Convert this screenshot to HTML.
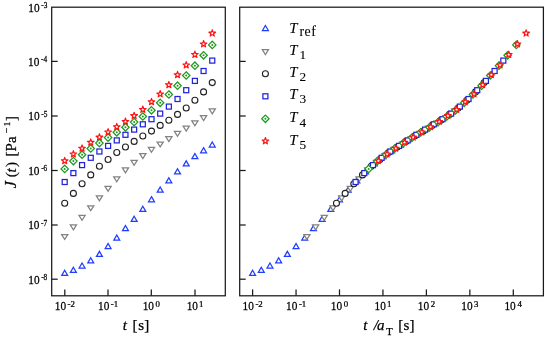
<!DOCTYPE html>
<html><head><meta charset="utf-8"><style>
html,body{margin:0;padding:0;background:#fff;}
body{width:545px;height:338px;overflow:hidden;}
svg{display:block;}
text{font-family:"Liberation Serif","Times New Roman",serif;fill:#000;stroke:#000;stroke-width:0.25px;}
.i{font-style:italic;}
.l{stroke-width:0.08px;}
</style></head><body>
<svg width="545" height="338" viewBox="0 0 545 338">
<rect x="51.7" y="7.2" width="173.6" height="288.6" fill="none" stroke="#1a1a1a" stroke-width="1.25"/>
<rect x="239.7" y="7.2" width="303.7" height="288.6" fill="none" stroke="#1a1a1a" stroke-width="1.25"/>
<line x1="51.7" y1="61.4" x2="57.7" y2="61.4" stroke="#1a1a1a" stroke-width="1.25"/>
<line x1="51.7" y1="116.0" x2="57.7" y2="116.0" stroke="#1a1a1a" stroke-width="1.25"/>
<line x1="51.7" y1="170.5" x2="57.7" y2="170.5" stroke="#1a1a1a" stroke-width="1.25"/>
<line x1="51.7" y1="225.0" x2="57.7" y2="225.0" stroke="#1a1a1a" stroke-width="1.25"/>
<line x1="51.7" y1="279.2" x2="57.7" y2="279.2" stroke="#1a1a1a" stroke-width="1.25"/>
<line x1="239.7" y1="61.4" x2="245.7" y2="61.4" stroke="#1a1a1a" stroke-width="1.25"/>
<line x1="239.7" y1="116.0" x2="245.7" y2="116.0" stroke="#1a1a1a" stroke-width="1.25"/>
<line x1="239.7" y1="170.5" x2="245.7" y2="170.5" stroke="#1a1a1a" stroke-width="1.25"/>
<line x1="239.7" y1="225.0" x2="245.7" y2="225.0" stroke="#1a1a1a" stroke-width="1.25"/>
<line x1="239.7" y1="279.2" x2="245.7" y2="279.2" stroke="#1a1a1a" stroke-width="1.25"/>
<line x1="64.8" y1="295.8" x2="64.8" y2="289.40000000000003" stroke="#1a1a1a" stroke-width="1.25"/>
<line x1="108.0" y1="295.8" x2="108.0" y2="289.40000000000003" stroke="#1a1a1a" stroke-width="1.25"/>
<line x1="151.3" y1="295.8" x2="151.3" y2="289.40000000000003" stroke="#1a1a1a" stroke-width="1.25"/>
<line x1="195.0" y1="295.8" x2="195.0" y2="289.40000000000003" stroke="#1a1a1a" stroke-width="1.25"/>
<line x1="252.60" y1="295.8" x2="252.60" y2="289.40000000000003" stroke="#1a1a1a" stroke-width="1.25"/>
<line x1="296.05" y1="295.8" x2="296.05" y2="289.40000000000003" stroke="#1a1a1a" stroke-width="1.25"/>
<line x1="339.50" y1="295.8" x2="339.50" y2="289.40000000000003" stroke="#1a1a1a" stroke-width="1.25"/>
<line x1="382.95" y1="295.8" x2="382.95" y2="289.40000000000003" stroke="#1a1a1a" stroke-width="1.25"/>
<line x1="426.40" y1="295.8" x2="426.40" y2="289.40000000000003" stroke="#1a1a1a" stroke-width="1.25"/>
<line x1="469.85" y1="295.8" x2="469.85" y2="289.40000000000003" stroke="#1a1a1a" stroke-width="1.25"/>
<line x1="513.30" y1="295.8" x2="513.30" y2="289.40000000000003" stroke="#1a1a1a" stroke-width="1.25"/>
<text transform="translate(28.29,11.55) scale(0.87,1)" font-size="13.0">10</text><text transform="translate(41.20,8.15) scale(0.87,1)" font-size="8.4">-3</text>
<text transform="translate(28.12,65.75) scale(0.87,1)" font-size="13.0">10</text><text transform="translate(41.03,62.35) scale(0.87,1)" font-size="8.4">-4</text>
<text transform="translate(28.29,120.35) scale(0.87,1)" font-size="13.0">10</text><text transform="translate(41.20,116.95) scale(0.87,1)" font-size="8.4">-5</text>
<text transform="translate(28.22,174.85) scale(0.87,1)" font-size="13.0">10</text><text transform="translate(41.13,171.45) scale(0.87,1)" font-size="8.4">-6</text>
<text transform="translate(28.21,229.35) scale(0.87,1)" font-size="13.0">10</text><text transform="translate(41.12,225.95) scale(0.87,1)" font-size="8.4">-7</text>
<text transform="translate(28.28,283.55) scale(0.87,1)" font-size="13.0">10</text><text transform="translate(41.19,280.15) scale(0.87,1)" font-size="8.4">-8</text>
<text transform="translate(54.75,310.40) scale(0.87,1)" font-size="13.0">10</text><text transform="translate(67.61,306.70) scale(1.1,1)" font-size="8.0">-2</text>
<text transform="translate(97.98,310.40) scale(0.87,1)" font-size="13.0">10</text><text transform="translate(110.83,306.70) scale(1.1,1)" font-size="8.0">-1</text>
<text transform="translate(142.65,310.40) scale(0.87,1)" font-size="13.0">10</text><text transform="translate(155.49,306.70) scale(1.1,1)" font-size="8.0">0</text>
<text transform="translate(186.66,310.40) scale(0.87,1)" font-size="13.0">10</text><text transform="translate(199.07,306.70) scale(1.1,1)" font-size="8.0">1</text>
<text transform="translate(242.55,310.40) scale(0.87,1)" font-size="13.0">10</text><text transform="translate(255.41,306.70) scale(1.1,1)" font-size="8.0">-2</text>
<text transform="translate(286.03,310.40) scale(0.87,1)" font-size="13.0">10</text><text transform="translate(298.88,306.70) scale(1.1,1)" font-size="8.0">-1</text>
<text transform="translate(330.85,310.40) scale(0.87,1)" font-size="13.0">10</text><text transform="translate(343.69,306.70) scale(1.1,1)" font-size="8.0">0</text>
<text transform="translate(374.61,310.40) scale(0.87,1)" font-size="13.0">10</text><text transform="translate(387.02,306.70) scale(1.1,1)" font-size="8.0">1</text>
<text transform="translate(417.85,310.40) scale(0.87,1)" font-size="13.0">10</text><text transform="translate(430.64,306.70) scale(1.1,1)" font-size="8.0">2</text>
<text transform="translate(461.25,310.40) scale(0.87,1)" font-size="13.0">10</text><text transform="translate(474.00,306.70) scale(1.1,1)" font-size="8.0">3</text>
<text transform="translate(504.47,310.40) scale(0.87,1)" font-size="13.0">10</text><text transform="translate(517.48,306.70) scale(1.1,1)" font-size="8.0">4</text>
<text x="122.64" y="329.70" font-size="15" class="i">t</text>
<text x="132.59" y="329.70" font-size="15">[</text>
<text x="138.28" y="329.70" font-size="15">s</text>
<text x="144.16" y="329.70" font-size="15">]</text>
<text x="363.34" y="329.70" font-size="15" class="i">t</text>
<text x="373.69" y="329.70" font-size="15" class="i">/</text>
<text x="377.05" y="329.70" font-size="15" class="i">a</text>
<text x="386.31" y="335.00" font-size="10.5">T</text>
<text x="398.19" y="329.70" font-size="15">[</text>
<text x="403.58" y="329.70" font-size="15">s</text>
<text x="409.56" y="329.70" font-size="15">]</text>
<g transform="translate(16,0) rotate(-90)"><text x="-188.14" y="0" font-size="16" class="i">J</text><text x="-177.26" y="0" font-size="15">(</text><text x="-172.56" y="0" font-size="15" class="i">t</text><text x="-167.08" y="0" font-size="15">)</text><text x="-156.41" y="0" font-size="15">[</text><text x="-151.43" y="0" font-size="15">Pa</text><text x="-133.20" y="-6.0" font-size="10">−</text><text x="-126.29" y="-6.0" font-size="9">1</text><text x="-121.04" y="0" font-size="15">]</text></g>
<path d="M265.40,25.45L268.35,30.55L262.45,30.55Z" fill="#fff" stroke="#1f3dff" stroke-width="1.25"/>
<text x="289.23" y="32.50" font-size="14.8" class="i l">T</text>
<text class="l" x="299.5" y="35.80" font-size="13.8" letter-spacing="0.5">ref</text>
<path d="M265.40,54.55L268.50,49.65L262.30,49.65Z" fill="#fff" stroke="#828282" stroke-width="1.25"/>
<text x="289.23" y="54.50" font-size="14.8" class="i l">T</text>
<text class="l" x="299.5" y="58.70" font-size="13.3" letter-spacing="0">1</text>
<circle cx="265.40" cy="73.75" r="3.0" fill="#fff" stroke="#202020" stroke-width="1.1"/>
<text x="289.23" y="77.00" font-size="14.8" class="i l">T</text>
<text class="l" x="299.5" y="81.20" font-size="13.3" letter-spacing="0">2</text>
<rect x="262.90" y="93.80" width="5.0" height="5.0" fill="#fff" stroke="#2222dd" stroke-width="1.25"/>
<text x="289.23" y="99.20" font-size="14.8" class="i l">T</text>
<text class="l" x="299.5" y="103.40" font-size="13.3" letter-spacing="0">3</text>
<path d="M265.40,115.10L269.10,118.80L265.40,122.50L261.70,118.80Z" fill="#fff" stroke="#1e9a1e" stroke-width="1.25"/><circle cx="265.40" cy="118.80" r="1.0" fill="#1e9a1e"/>
<text x="289.23" y="122.30" font-size="14.8" class="i l">T</text>
<text class="l" x="299.5" y="126.50" font-size="13.3" letter-spacing="0">4</text>
<polygon points="265.40,137.55 266.20,139.95 268.73,139.97 266.70,141.47 267.46,143.88 265.40,142.41 263.34,143.88 264.10,141.47 262.07,139.97 264.60,139.95" fill="#fff" stroke="#ff1010" stroke-width="1.15" stroke-linejoin="round"/>
<text x="289.23" y="144.80" font-size="14.8" class="i l">T</text>
<text class="l" x="299.5" y="149.00" font-size="13.3" letter-spacing="0">5</text>
<path d="M64.70,270.25L67.65,275.35L61.75,275.35Z" fill="#fff" stroke="#1f3dff" stroke-width="1.25"/>
<path d="M73.38,267.25L76.33,272.35L70.43,272.35Z" fill="#fff" stroke="#1f3dff" stroke-width="1.25"/>
<path d="M82.06,262.95L85.01,268.05L79.11,268.05Z" fill="#fff" stroke="#1f3dff" stroke-width="1.25"/>
<path d="M90.74,257.75L93.69,262.85L87.79,262.85Z" fill="#fff" stroke="#1f3dff" stroke-width="1.25"/>
<path d="M99.42,251.35L102.37,256.45L96.47,256.45Z" fill="#fff" stroke="#1f3dff" stroke-width="1.25"/>
<path d="M108.10,243.55L111.05,248.65L105.15,248.65Z" fill="#fff" stroke="#1f3dff" stroke-width="1.25"/>
<path d="M116.78,235.05L119.73,240.15L113.83,240.15Z" fill="#fff" stroke="#1f3dff" stroke-width="1.25"/>
<path d="M125.46,225.55L128.41,230.65L122.51,230.65Z" fill="#fff" stroke="#1f3dff" stroke-width="1.25"/>
<path d="M134.14,216.25L137.09,221.35L131.19,221.35Z" fill="#fff" stroke="#1f3dff" stroke-width="1.25"/>
<path d="M142.82,206.25L145.77,211.35L139.87,211.35Z" fill="#fff" stroke="#1f3dff" stroke-width="1.25"/>
<path d="M151.50,196.65L154.45,201.75L148.55,201.75Z" fill="#fff" stroke="#1f3dff" stroke-width="1.25"/>
<path d="M160.18,187.05L163.13,192.15L157.23,192.15Z" fill="#fff" stroke="#1f3dff" stroke-width="1.25"/>
<path d="M168.86,177.75L171.81,182.85L165.91,182.85Z" fill="#fff" stroke="#1f3dff" stroke-width="1.25"/>
<path d="M177.54,168.75L180.49,173.85L174.59,173.85Z" fill="#fff" stroke="#1f3dff" stroke-width="1.25"/>
<path d="M186.22,160.85L189.17,165.95L183.27,165.95Z" fill="#fff" stroke="#1f3dff" stroke-width="1.25"/>
<path d="M194.90,153.55L197.85,158.65L191.95,158.65Z" fill="#fff" stroke="#1f3dff" stroke-width="1.25"/>
<path d="M203.58,147.65L206.53,152.75L200.63,152.75Z" fill="#fff" stroke="#1f3dff" stroke-width="1.25"/>
<path d="M212.26,141.95L215.21,147.05L209.31,147.05Z" fill="#fff" stroke="#1f3dff" stroke-width="1.25"/>
<path d="M64.70,239.45L67.80,234.55L61.60,234.55Z" fill="#fff" stroke="#828282" stroke-width="1.25"/>
<path d="M73.38,229.85L76.48,224.95L70.28,224.95Z" fill="#fff" stroke="#828282" stroke-width="1.25"/>
<path d="M82.06,220.25L85.16,215.35L78.96,215.35Z" fill="#fff" stroke="#828282" stroke-width="1.25"/>
<path d="M90.74,210.65L93.84,205.75L87.64,205.75Z" fill="#fff" stroke="#828282" stroke-width="1.25"/>
<path d="M99.42,200.85L102.52,195.95L96.32,195.95Z" fill="#fff" stroke="#828282" stroke-width="1.25"/>
<path d="M108.10,191.25L111.20,186.35L105.00,186.35Z" fill="#fff" stroke="#828282" stroke-width="1.25"/>
<path d="M116.78,181.75L119.88,176.85L113.68,176.85Z" fill="#fff" stroke="#828282" stroke-width="1.25"/>
<path d="M125.46,172.85L128.56,167.95L122.36,167.95Z" fill="#fff" stroke="#828282" stroke-width="1.25"/>
<path d="M134.14,165.25L137.24,160.35L131.04,160.35Z" fill="#fff" stroke="#828282" stroke-width="1.25"/>
<path d="M142.82,158.55L145.92,153.65L139.72,153.65Z" fill="#fff" stroke="#828282" stroke-width="1.25"/>
<path d="M151.50,152.25L154.60,147.35L148.40,147.35Z" fill="#fff" stroke="#828282" stroke-width="1.25"/>
<path d="M160.18,146.95L163.28,142.05L157.08,142.05Z" fill="#fff" stroke="#828282" stroke-width="1.25"/>
<path d="M168.86,141.55L171.96,136.65L165.76,136.65Z" fill="#fff" stroke="#828282" stroke-width="1.25"/>
<path d="M177.54,136.25L180.64,131.35L174.44,131.35Z" fill="#fff" stroke="#828282" stroke-width="1.25"/>
<path d="M186.22,131.05L189.32,126.15L183.12,126.15Z" fill="#fff" stroke="#828282" stroke-width="1.25"/>
<path d="M194.90,125.75L198.00,120.85L191.80,120.85Z" fill="#fff" stroke="#828282" stroke-width="1.25"/>
<path d="M203.58,120.55L206.68,115.65L200.48,115.65Z" fill="#fff" stroke="#828282" stroke-width="1.25"/>
<path d="M212.26,113.85L215.36,108.95L209.16,108.95Z" fill="#fff" stroke="#828282" stroke-width="1.25"/>
<circle cx="64.70" cy="203.20" r="3.0" fill="#fff" stroke="#202020" stroke-width="1.1"/>
<circle cx="73.38" cy="193.40" r="3.0" fill="#fff" stroke="#202020" stroke-width="1.1"/>
<circle cx="82.06" cy="183.80" r="3.0" fill="#fff" stroke="#202020" stroke-width="1.1"/>
<circle cx="90.74" cy="174.90" r="3.0" fill="#fff" stroke="#202020" stroke-width="1.1"/>
<circle cx="99.42" cy="166.30" r="3.0" fill="#fff" stroke="#202020" stroke-width="1.1"/>
<circle cx="108.10" cy="159.50" r="3.0" fill="#fff" stroke="#202020" stroke-width="1.1"/>
<circle cx="116.78" cy="152.50" r="3.0" fill="#fff" stroke="#202020" stroke-width="1.1"/>
<circle cx="125.46" cy="147.00" r="3.0" fill="#fff" stroke="#202020" stroke-width="1.1"/>
<circle cx="134.14" cy="141.40" r="3.0" fill="#fff" stroke="#202020" stroke-width="1.1"/>
<circle cx="142.82" cy="136.00" r="3.0" fill="#fff" stroke="#202020" stroke-width="1.1"/>
<circle cx="151.50" cy="131.10" r="3.0" fill="#fff" stroke="#202020" stroke-width="1.1"/>
<circle cx="160.18" cy="125.40" r="3.0" fill="#fff" stroke="#202020" stroke-width="1.1"/>
<circle cx="168.86" cy="120.20" r="3.0" fill="#fff" stroke="#202020" stroke-width="1.1"/>
<circle cx="177.54" cy="114.40" r="3.0" fill="#fff" stroke="#202020" stroke-width="1.1"/>
<circle cx="186.22" cy="108.00" r="3.0" fill="#fff" stroke="#202020" stroke-width="1.1"/>
<circle cx="194.90" cy="100.30" r="3.0" fill="#fff" stroke="#202020" stroke-width="1.1"/>
<circle cx="203.58" cy="91.90" r="3.0" fill="#fff" stroke="#202020" stroke-width="1.1"/>
<circle cx="212.26" cy="82.60" r="3.0" fill="#fff" stroke="#202020" stroke-width="1.1"/>
<rect x="62.20" y="179.50" width="5.0" height="5.0" fill="#fff" stroke="#2222dd" stroke-width="1.25"/>
<rect x="70.88" y="170.60" width="5.0" height="5.0" fill="#fff" stroke="#2222dd" stroke-width="1.25"/>
<rect x="79.56" y="162.60" width="5.0" height="5.0" fill="#fff" stroke="#2222dd" stroke-width="1.25"/>
<rect x="88.24" y="155.30" width="5.0" height="5.0" fill="#fff" stroke="#2222dd" stroke-width="1.25"/>
<rect x="96.92" y="149.00" width="5.0" height="5.0" fill="#fff" stroke="#2222dd" stroke-width="1.25"/>
<rect x="105.60" y="143.40" width="5.0" height="5.0" fill="#fff" stroke="#2222dd" stroke-width="1.25"/>
<rect x="114.28" y="137.90" width="5.0" height="5.0" fill="#fff" stroke="#2222dd" stroke-width="1.25"/>
<rect x="122.96" y="132.30" width="5.0" height="5.0" fill="#fff" stroke="#2222dd" stroke-width="1.25"/>
<rect x="131.64" y="127.10" width="5.0" height="5.0" fill="#fff" stroke="#2222dd" stroke-width="1.25"/>
<rect x="140.32" y="121.80" width="5.0" height="5.0" fill="#fff" stroke="#2222dd" stroke-width="1.25"/>
<rect x="149.00" y="116.70" width="5.0" height="5.0" fill="#fff" stroke="#2222dd" stroke-width="1.25"/>
<rect x="157.68" y="111.10" width="5.0" height="5.0" fill="#fff" stroke="#2222dd" stroke-width="1.25"/>
<rect x="166.36" y="104.10" width="5.0" height="5.0" fill="#fff" stroke="#2222dd" stroke-width="1.25"/>
<rect x="175.04" y="96.50" width="5.0" height="5.0" fill="#fff" stroke="#2222dd" stroke-width="1.25"/>
<rect x="183.72" y="87.70" width="5.0" height="5.0" fill="#fff" stroke="#2222dd" stroke-width="1.25"/>
<rect x="192.40" y="78.40" width="5.0" height="5.0" fill="#fff" stroke="#2222dd" stroke-width="1.25"/>
<rect x="201.08" y="68.50" width="5.0" height="5.0" fill="#fff" stroke="#2222dd" stroke-width="1.25"/>
<rect x="209.76" y="58.10" width="5.0" height="5.0" fill="#fff" stroke="#2222dd" stroke-width="1.25"/>
<path d="M64.70,165.20L68.40,168.90L64.70,172.60L61.00,168.90Z" fill="#fff" stroke="#1e9a1e" stroke-width="1.25"/><circle cx="64.70" cy="168.90" r="1.0" fill="#1e9a1e"/>
<path d="M73.38,157.40L77.08,161.10L73.38,164.80L69.68,161.10Z" fill="#fff" stroke="#1e9a1e" stroke-width="1.25"/><circle cx="73.38" cy="161.10" r="1.0" fill="#1e9a1e"/>
<path d="M82.06,151.00L85.76,154.70L82.06,158.40L78.36,154.70Z" fill="#fff" stroke="#1e9a1e" stroke-width="1.25"/><circle cx="82.06" cy="154.70" r="1.0" fill="#1e9a1e"/>
<path d="M90.74,144.80L94.44,148.50L90.74,152.20L87.04,148.50Z" fill="#fff" stroke="#1e9a1e" stroke-width="1.25"/><circle cx="90.74" cy="148.50" r="1.0" fill="#1e9a1e"/>
<path d="M99.42,139.40L103.12,143.10L99.42,146.80L95.72,143.10Z" fill="#fff" stroke="#1e9a1e" stroke-width="1.25"/><circle cx="99.42" cy="143.10" r="1.0" fill="#1e9a1e"/>
<path d="M108.10,133.90L111.80,137.60L108.10,141.30L104.40,137.60Z" fill="#fff" stroke="#1e9a1e" stroke-width="1.25"/><circle cx="108.10" cy="137.60" r="1.0" fill="#1e9a1e"/>
<path d="M116.78,128.60L120.48,132.30L116.78,136.00L113.08,132.30Z" fill="#fff" stroke="#1e9a1e" stroke-width="1.25"/><circle cx="116.78" cy="132.30" r="1.0" fill="#1e9a1e"/>
<path d="M125.46,123.60L129.16,127.30L125.46,131.00L121.76,127.30Z" fill="#fff" stroke="#1e9a1e" stroke-width="1.25"/><circle cx="125.46" cy="127.30" r="1.0" fill="#1e9a1e"/>
<path d="M134.14,118.40L137.84,122.10L134.14,125.80L130.44,122.10Z" fill="#fff" stroke="#1e9a1e" stroke-width="1.25"/><circle cx="134.14" cy="122.10" r="1.0" fill="#1e9a1e"/>
<path d="M142.82,112.80L146.52,116.50L142.82,120.20L139.12,116.50Z" fill="#fff" stroke="#1e9a1e" stroke-width="1.25"/><circle cx="142.82" cy="116.50" r="1.0" fill="#1e9a1e"/>
<path d="M151.50,106.60L155.20,110.30L151.50,114.00L147.80,110.30Z" fill="#fff" stroke="#1e9a1e" stroke-width="1.25"/><circle cx="151.50" cy="110.30" r="1.0" fill="#1e9a1e"/>
<path d="M160.18,99.10L163.88,102.80L160.18,106.50L156.48,102.80Z" fill="#fff" stroke="#1e9a1e" stroke-width="1.25"/><circle cx="160.18" cy="102.80" r="1.0" fill="#1e9a1e"/>
<path d="M168.86,90.80L172.56,94.50L168.86,98.20L165.16,94.50Z" fill="#fff" stroke="#1e9a1e" stroke-width="1.25"/><circle cx="168.86" cy="94.50" r="1.0" fill="#1e9a1e"/>
<path d="M177.54,82.00L181.24,85.70L177.54,89.40L173.84,85.70Z" fill="#fff" stroke="#1e9a1e" stroke-width="1.25"/><circle cx="177.54" cy="85.70" r="1.0" fill="#1e9a1e"/>
<path d="M186.22,71.80L189.92,75.50L186.22,79.20L182.52,75.50Z" fill="#fff" stroke="#1e9a1e" stroke-width="1.25"/><circle cx="186.22" cy="75.50" r="1.0" fill="#1e9a1e"/>
<path d="M194.90,62.00L198.60,65.70L194.90,69.40L191.20,65.70Z" fill="#fff" stroke="#1e9a1e" stroke-width="1.25"/><circle cx="194.90" cy="65.70" r="1.0" fill="#1e9a1e"/>
<path d="M203.58,51.60L207.28,55.30L203.58,59.00L199.88,55.30Z" fill="#fff" stroke="#1e9a1e" stroke-width="1.25"/><circle cx="203.58" cy="55.30" r="1.0" fill="#1e9a1e"/>
<path d="M212.26,41.20L215.96,44.90L212.26,48.60L208.56,44.90Z" fill="#fff" stroke="#1e9a1e" stroke-width="1.25"/><circle cx="212.26" cy="44.90" r="1.0" fill="#1e9a1e"/>
<polygon points="64.70,157.35 65.50,159.75 68.03,159.77 66.00,161.27 66.76,163.68 64.70,162.22 62.64,163.68 63.40,161.27 61.37,159.77 63.90,159.75" fill="#fff" stroke="#ff1010" stroke-width="1.15" stroke-linejoin="round"/>
<polygon points="73.38,150.65 74.18,153.05 76.71,153.07 74.68,154.57 75.44,156.98 73.38,155.52 71.32,156.98 72.08,154.57 70.05,153.07 72.58,153.05" fill="#fff" stroke="#ff1010" stroke-width="1.15" stroke-linejoin="round"/>
<polygon points="82.06,144.85 82.86,147.25 85.39,147.27 83.36,148.77 84.12,151.18 82.06,149.72 80.00,151.18 80.76,148.77 78.73,147.27 81.26,147.25" fill="#fff" stroke="#ff1010" stroke-width="1.15" stroke-linejoin="round"/>
<polygon points="90.74,138.95 91.54,141.35 94.07,141.37 92.04,142.87 92.80,145.28 90.74,143.81 88.68,145.28 89.44,142.87 87.41,141.37 89.94,141.35" fill="#fff" stroke="#ff1010" stroke-width="1.15" stroke-linejoin="round"/>
<polygon points="99.42,133.75 100.22,136.15 102.75,136.17 100.72,137.67 101.48,140.08 99.42,138.62 97.36,140.08 98.12,137.67 96.09,136.17 98.62,136.15" fill="#fff" stroke="#ff1010" stroke-width="1.15" stroke-linejoin="round"/>
<polygon points="108.10,128.65 108.90,131.05 111.43,131.07 109.40,132.57 110.16,134.98 108.10,133.52 106.04,134.98 106.80,132.57 104.77,131.07 107.30,131.05" fill="#fff" stroke="#ff1010" stroke-width="1.15" stroke-linejoin="round"/>
<polygon points="116.78,123.35 117.58,125.75 120.11,125.77 118.08,127.27 118.84,129.68 116.78,128.22 114.72,129.68 115.48,127.27 113.45,125.77 115.98,125.75" fill="#fff" stroke="#ff1010" stroke-width="1.15" stroke-linejoin="round"/>
<polygon points="125.46,118.05 126.26,120.45 128.79,120.47 126.76,121.97 127.52,124.38 125.46,122.91 123.40,124.38 124.16,121.97 122.13,120.47 124.66,120.45" fill="#fff" stroke="#ff1010" stroke-width="1.15" stroke-linejoin="round"/>
<polygon points="134.14,112.25 134.94,114.65 137.47,114.67 135.44,116.17 136.20,118.58 134.14,117.11 132.08,118.58 132.84,116.17 130.81,114.67 133.34,114.65" fill="#fff" stroke="#ff1010" stroke-width="1.15" stroke-linejoin="round"/>
<polygon points="142.82,106.05 143.62,108.45 146.15,108.47 144.12,109.97 144.88,112.38 142.82,110.91 140.76,112.38 141.52,109.97 139.49,108.47 142.02,108.45" fill="#fff" stroke="#ff1010" stroke-width="1.15" stroke-linejoin="round"/>
<polygon points="151.50,98.35 152.30,100.75 154.83,100.77 152.80,102.27 153.56,104.68 151.50,103.21 149.44,104.68 150.20,102.27 148.17,100.77 150.70,100.75" fill="#fff" stroke="#ff1010" stroke-width="1.15" stroke-linejoin="round"/>
<polygon points="160.18,90.55 160.98,92.95 163.51,92.97 161.48,94.47 162.24,96.88 160.18,95.41 158.12,96.88 158.88,94.47 156.85,92.97 159.38,92.95" fill="#fff" stroke="#ff1010" stroke-width="1.15" stroke-linejoin="round"/>
<polygon points="168.86,81.45 169.66,83.85 172.19,83.87 170.16,85.37 170.92,87.78 168.86,86.31 166.80,87.78 167.56,85.37 165.53,83.87 168.06,83.85" fill="#fff" stroke="#ff1010" stroke-width="1.15" stroke-linejoin="round"/>
<polygon points="177.54,71.35 178.34,73.75 180.87,73.77 178.84,75.27 179.60,77.68 177.54,76.21 175.48,77.68 176.24,75.27 174.21,73.77 176.74,73.75" fill="#fff" stroke="#ff1010" stroke-width="1.15" stroke-linejoin="round"/>
<polygon points="186.22,61.65 187.02,64.05 189.55,64.07 187.52,65.57 188.28,67.98 186.22,66.51 184.16,67.98 184.92,65.57 182.89,64.07 185.42,64.05" fill="#fff" stroke="#ff1010" stroke-width="1.15" stroke-linejoin="round"/>
<polygon points="194.90,51.15 195.70,53.55 198.23,53.57 196.20,55.07 196.96,57.48 194.90,56.02 192.84,57.48 193.60,55.07 191.57,53.57 194.10,53.55" fill="#fff" stroke="#ff1010" stroke-width="1.15" stroke-linejoin="round"/>
<polygon points="203.58,40.55 204.38,42.95 206.91,42.97 204.88,44.47 205.64,46.88 203.58,45.42 201.52,46.88 202.28,44.47 200.25,42.97 202.78,42.95" fill="#fff" stroke="#ff1010" stroke-width="1.15" stroke-linejoin="round"/>
<polygon points="212.26,29.75 213.06,32.15 215.59,32.17 213.56,33.67 214.32,36.08 212.26,34.62 210.20,36.08 210.96,33.67 208.93,32.17 211.46,32.15" fill="#fff" stroke="#ff1010" stroke-width="1.15" stroke-linejoin="round"/>
<path d="M252.60,270.25L255.55,275.35L249.65,275.35Z" fill="#fff" stroke="#1f3dff" stroke-width="1.25"/>
<path d="M261.29,267.25L264.24,272.35L258.34,272.35Z" fill="#fff" stroke="#1f3dff" stroke-width="1.25"/>
<path d="M269.98,262.95L272.93,268.05L267.03,268.05Z" fill="#fff" stroke="#1f3dff" stroke-width="1.25"/>
<path d="M278.67,257.75L281.62,262.85L275.72,262.85Z" fill="#fff" stroke="#1f3dff" stroke-width="1.25"/>
<path d="M287.36,251.35L290.31,256.45L284.41,256.45Z" fill="#fff" stroke="#1f3dff" stroke-width="1.25"/>
<path d="M296.05,243.55L299.00,248.65L293.10,248.65Z" fill="#fff" stroke="#1f3dff" stroke-width="1.25"/>
<path d="M304.74,235.05L307.69,240.15L301.79,240.15Z" fill="#fff" stroke="#1f3dff" stroke-width="1.25"/>
<path d="M313.43,225.55L316.38,230.65L310.48,230.65Z" fill="#fff" stroke="#1f3dff" stroke-width="1.25"/>
<path d="M322.12,216.25L325.07,221.35L319.17,221.35Z" fill="#fff" stroke="#1f3dff" stroke-width="1.25"/>
<path d="M330.81,206.25L333.76,211.35L327.86,211.35Z" fill="#fff" stroke="#1f3dff" stroke-width="1.25"/>
<path d="M339.50,196.65L342.45,201.75L336.55,201.75Z" fill="#fff" stroke="#1f3dff" stroke-width="1.25"/>
<path d="M348.19,187.05L351.14,192.15L345.24,192.15Z" fill="#fff" stroke="#1f3dff" stroke-width="1.25"/>
<path d="M356.88,177.75L359.83,182.85L353.93,182.85Z" fill="#fff" stroke="#1f3dff" stroke-width="1.25"/>
<path d="M365.57,168.75L368.52,173.85L362.62,173.85Z" fill="#fff" stroke="#1f3dff" stroke-width="1.25"/>
<path d="M374.26,160.85L377.21,165.95L371.31,165.95Z" fill="#fff" stroke="#1f3dff" stroke-width="1.25"/>
<path d="M382.95,153.55L385.90,158.65L380.00,158.65Z" fill="#fff" stroke="#1f3dff" stroke-width="1.25"/>
<path d="M391.64,147.65L394.59,152.75L388.69,152.75Z" fill="#fff" stroke="#1f3dff" stroke-width="1.25"/>
<path d="M400.33,141.95L403.28,147.05L397.38,147.05Z" fill="#fff" stroke="#1f3dff" stroke-width="1.25"/>
<path d="M306.91,239.45L310.01,234.55L303.81,234.55Z" fill="#fff" stroke="#828282" stroke-width="1.25"/>
<path d="M315.60,229.85L318.70,224.95L312.50,224.95Z" fill="#fff" stroke="#828282" stroke-width="1.25"/>
<path d="M324.29,220.25L327.39,215.35L321.19,215.35Z" fill="#fff" stroke="#828282" stroke-width="1.25"/>
<path d="M332.98,210.65L336.08,205.75L329.88,205.75Z" fill="#fff" stroke="#828282" stroke-width="1.25"/>
<path d="M341.67,200.85L344.77,195.95L338.57,195.95Z" fill="#fff" stroke="#828282" stroke-width="1.25"/>
<path d="M350.36,191.25L353.46,186.35L347.26,186.35Z" fill="#fff" stroke="#828282" stroke-width="1.25"/>
<path d="M359.05,181.75L362.15,176.85L355.95,176.85Z" fill="#fff" stroke="#828282" stroke-width="1.25"/>
<path d="M367.74,172.85L370.84,167.95L364.64,167.95Z" fill="#fff" stroke="#828282" stroke-width="1.25"/>
<path d="M376.43,165.25L379.53,160.35L373.33,160.35Z" fill="#fff" stroke="#828282" stroke-width="1.25"/>
<path d="M385.12,158.55L388.22,153.65L382.02,153.65Z" fill="#fff" stroke="#828282" stroke-width="1.25"/>
<path d="M393.81,152.25L396.91,147.35L390.71,147.35Z" fill="#fff" stroke="#828282" stroke-width="1.25"/>
<path d="M402.50,146.95L405.60,142.05L399.40,142.05Z" fill="#fff" stroke="#828282" stroke-width="1.25"/>
<path d="M411.19,141.55L414.29,136.65L408.09,136.65Z" fill="#fff" stroke="#828282" stroke-width="1.25"/>
<path d="M419.88,136.25L422.98,131.35L416.78,131.35Z" fill="#fff" stroke="#828282" stroke-width="1.25"/>
<path d="M428.57,131.05L431.67,126.15L425.47,126.15Z" fill="#fff" stroke="#828282" stroke-width="1.25"/>
<path d="M437.26,125.75L440.36,120.85L434.16,120.85Z" fill="#fff" stroke="#828282" stroke-width="1.25"/>
<path d="M445.95,120.55L449.05,115.65L442.85,115.65Z" fill="#fff" stroke="#828282" stroke-width="1.25"/>
<path d="M454.64,113.85L457.74,108.95L451.54,108.95Z" fill="#fff" stroke="#828282" stroke-width="1.25"/>
<circle cx="336.46" cy="203.20" r="3.0" fill="#fff" stroke="#202020" stroke-width="1.1"/>
<circle cx="345.15" cy="193.40" r="3.0" fill="#fff" stroke="#202020" stroke-width="1.1"/>
<circle cx="353.84" cy="183.80" r="3.0" fill="#fff" stroke="#202020" stroke-width="1.1"/>
<circle cx="362.53" cy="174.90" r="3.0" fill="#fff" stroke="#202020" stroke-width="1.1"/>
<circle cx="371.22" cy="166.30" r="3.0" fill="#fff" stroke="#202020" stroke-width="1.1"/>
<circle cx="379.91" cy="159.50" r="3.0" fill="#fff" stroke="#202020" stroke-width="1.1"/>
<circle cx="388.60" cy="152.50" r="3.0" fill="#fff" stroke="#202020" stroke-width="1.1"/>
<circle cx="397.29" cy="147.00" r="3.0" fill="#fff" stroke="#202020" stroke-width="1.1"/>
<circle cx="405.98" cy="141.40" r="3.0" fill="#fff" stroke="#202020" stroke-width="1.1"/>
<circle cx="414.67" cy="136.00" r="3.0" fill="#fff" stroke="#202020" stroke-width="1.1"/>
<circle cx="423.36" cy="131.10" r="3.0" fill="#fff" stroke="#202020" stroke-width="1.1"/>
<circle cx="432.05" cy="125.40" r="3.0" fill="#fff" stroke="#202020" stroke-width="1.1"/>
<circle cx="440.74" cy="120.20" r="3.0" fill="#fff" stroke="#202020" stroke-width="1.1"/>
<circle cx="449.43" cy="114.40" r="3.0" fill="#fff" stroke="#202020" stroke-width="1.1"/>
<circle cx="458.12" cy="108.00" r="3.0" fill="#fff" stroke="#202020" stroke-width="1.1"/>
<circle cx="466.81" cy="100.30" r="3.0" fill="#fff" stroke="#202020" stroke-width="1.1"/>
<circle cx="475.50" cy="91.90" r="3.0" fill="#fff" stroke="#202020" stroke-width="1.1"/>
<circle cx="484.19" cy="82.60" r="3.0" fill="#fff" stroke="#202020" stroke-width="1.1"/>
<rect x="353.08" y="179.50" width="5.0" height="5.0" fill="#fff" stroke="#2222dd" stroke-width="1.25"/>
<rect x="361.77" y="170.60" width="5.0" height="5.0" fill="#fff" stroke="#2222dd" stroke-width="1.25"/>
<rect x="370.46" y="162.60" width="5.0" height="5.0" fill="#fff" stroke="#2222dd" stroke-width="1.25"/>
<rect x="379.15" y="155.30" width="5.0" height="5.0" fill="#fff" stroke="#2222dd" stroke-width="1.25"/>
<rect x="387.84" y="149.00" width="5.0" height="5.0" fill="#fff" stroke="#2222dd" stroke-width="1.25"/>
<rect x="396.53" y="143.40" width="5.0" height="5.0" fill="#fff" stroke="#2222dd" stroke-width="1.25"/>
<rect x="405.22" y="137.90" width="5.0" height="5.0" fill="#fff" stroke="#2222dd" stroke-width="1.25"/>
<rect x="413.91" y="132.30" width="5.0" height="5.0" fill="#fff" stroke="#2222dd" stroke-width="1.25"/>
<rect x="422.60" y="127.10" width="5.0" height="5.0" fill="#fff" stroke="#2222dd" stroke-width="1.25"/>
<rect x="431.29" y="121.80" width="5.0" height="5.0" fill="#fff" stroke="#2222dd" stroke-width="1.25"/>
<rect x="439.98" y="116.70" width="5.0" height="5.0" fill="#fff" stroke="#2222dd" stroke-width="1.25"/>
<rect x="448.67" y="111.10" width="5.0" height="5.0" fill="#fff" stroke="#2222dd" stroke-width="1.25"/>
<rect x="457.36" y="104.10" width="5.0" height="5.0" fill="#fff" stroke="#2222dd" stroke-width="1.25"/>
<rect x="466.05" y="96.50" width="5.0" height="5.0" fill="#fff" stroke="#2222dd" stroke-width="1.25"/>
<rect x="474.74" y="87.70" width="5.0" height="5.0" fill="#fff" stroke="#2222dd" stroke-width="1.25"/>
<rect x="483.43" y="78.40" width="5.0" height="5.0" fill="#fff" stroke="#2222dd" stroke-width="1.25"/>
<rect x="492.12" y="68.50" width="5.0" height="5.0" fill="#fff" stroke="#2222dd" stroke-width="1.25"/>
<rect x="500.81" y="58.10" width="5.0" height="5.0" fill="#fff" stroke="#2222dd" stroke-width="1.25"/>
<path d="M368.61,165.20L372.31,168.90L368.61,172.60L364.91,168.90Z" fill="#fff" stroke="#1e9a1e" stroke-width="1.25"/><circle cx="368.61" cy="168.90" r="1.0" fill="#1e9a1e"/>
<path d="M377.30,157.40L381.00,161.10L377.30,164.80L373.60,161.10Z" fill="#fff" stroke="#1e9a1e" stroke-width="1.25"/><circle cx="377.30" cy="161.10" r="1.0" fill="#1e9a1e"/>
<path d="M385.99,151.00L389.69,154.70L385.99,158.40L382.29,154.70Z" fill="#fff" stroke="#1e9a1e" stroke-width="1.25"/><circle cx="385.99" cy="154.70" r="1.0" fill="#1e9a1e"/>
<path d="M394.68,144.80L398.38,148.50L394.68,152.20L390.98,148.50Z" fill="#fff" stroke="#1e9a1e" stroke-width="1.25"/><circle cx="394.68" cy="148.50" r="1.0" fill="#1e9a1e"/>
<path d="M403.37,139.40L407.07,143.10L403.37,146.80L399.67,143.10Z" fill="#fff" stroke="#1e9a1e" stroke-width="1.25"/><circle cx="403.37" cy="143.10" r="1.0" fill="#1e9a1e"/>
<path d="M412.06,133.90L415.76,137.60L412.06,141.30L408.36,137.60Z" fill="#fff" stroke="#1e9a1e" stroke-width="1.25"/><circle cx="412.06" cy="137.60" r="1.0" fill="#1e9a1e"/>
<path d="M420.75,128.60L424.45,132.30L420.75,136.00L417.05,132.30Z" fill="#fff" stroke="#1e9a1e" stroke-width="1.25"/><circle cx="420.75" cy="132.30" r="1.0" fill="#1e9a1e"/>
<path d="M429.44,123.60L433.14,127.30L429.44,131.00L425.74,127.30Z" fill="#fff" stroke="#1e9a1e" stroke-width="1.25"/><circle cx="429.44" cy="127.30" r="1.0" fill="#1e9a1e"/>
<path d="M438.13,118.40L441.83,122.10L438.13,125.80L434.43,122.10Z" fill="#fff" stroke="#1e9a1e" stroke-width="1.25"/><circle cx="438.13" cy="122.10" r="1.0" fill="#1e9a1e"/>
<path d="M446.82,112.80L450.52,116.50L446.82,120.20L443.12,116.50Z" fill="#fff" stroke="#1e9a1e" stroke-width="1.25"/><circle cx="446.82" cy="116.50" r="1.0" fill="#1e9a1e"/>
<path d="M455.51,106.60L459.21,110.30L455.51,114.00L451.81,110.30Z" fill="#fff" stroke="#1e9a1e" stroke-width="1.25"/><circle cx="455.51" cy="110.30" r="1.0" fill="#1e9a1e"/>
<path d="M464.20,99.10L467.90,102.80L464.20,106.50L460.50,102.80Z" fill="#fff" stroke="#1e9a1e" stroke-width="1.25"/><circle cx="464.20" cy="102.80" r="1.0" fill="#1e9a1e"/>
<path d="M472.89,90.80L476.59,94.50L472.89,98.20L469.19,94.50Z" fill="#fff" stroke="#1e9a1e" stroke-width="1.25"/><circle cx="472.89" cy="94.50" r="1.0" fill="#1e9a1e"/>
<path d="M481.58,82.00L485.28,85.70L481.58,89.40L477.88,85.70Z" fill="#fff" stroke="#1e9a1e" stroke-width="1.25"/><circle cx="481.58" cy="85.70" r="1.0" fill="#1e9a1e"/>
<path d="M490.27,71.80L493.97,75.50L490.27,79.20L486.57,75.50Z" fill="#fff" stroke="#1e9a1e" stroke-width="1.25"/><circle cx="490.27" cy="75.50" r="1.0" fill="#1e9a1e"/>
<path d="M498.96,62.00L502.66,65.70L498.96,69.40L495.26,65.70Z" fill="#fff" stroke="#1e9a1e" stroke-width="1.25"/><circle cx="498.96" cy="65.70" r="1.0" fill="#1e9a1e"/>
<path d="M507.65,51.60L511.35,55.30L507.65,59.00L503.95,55.30Z" fill="#fff" stroke="#1e9a1e" stroke-width="1.25"/><circle cx="507.65" cy="55.30" r="1.0" fill="#1e9a1e"/>
<path d="M516.34,41.20L520.04,44.90L516.34,48.60L512.64,44.90Z" fill="#fff" stroke="#1e9a1e" stroke-width="1.25"/><circle cx="516.34" cy="44.90" r="1.0" fill="#1e9a1e"/>
<polygon points="378.39,157.35 379.19,159.75 381.72,159.77 379.69,161.27 380.44,163.68 378.39,162.22 376.33,163.68 377.09,161.27 375.06,159.77 377.59,159.75" fill="#fff" stroke="#ff1010" stroke-width="1.15" stroke-linejoin="round"/>
<polygon points="387.08,150.65 387.88,153.05 390.41,153.07 388.38,154.57 389.13,156.98 387.08,155.52 385.02,156.98 385.78,154.57 383.75,153.07 386.28,153.05" fill="#fff" stroke="#ff1010" stroke-width="1.15" stroke-linejoin="round"/>
<polygon points="395.77,144.85 396.57,147.25 399.10,147.27 397.07,148.77 397.82,151.18 395.77,149.72 393.71,151.18 394.47,148.77 392.44,147.27 394.97,147.25" fill="#fff" stroke="#ff1010" stroke-width="1.15" stroke-linejoin="round"/>
<polygon points="404.46,138.95 405.26,141.35 407.79,141.37 405.76,142.87 406.51,145.28 404.46,143.81 402.40,145.28 403.16,142.87 401.13,141.37 403.66,141.35" fill="#fff" stroke="#ff1010" stroke-width="1.15" stroke-linejoin="round"/>
<polygon points="413.15,133.75 413.95,136.15 416.48,136.17 414.45,137.67 415.20,140.08 413.15,138.62 411.09,140.08 411.85,137.67 409.82,136.17 412.35,136.15" fill="#fff" stroke="#ff1010" stroke-width="1.15" stroke-linejoin="round"/>
<polygon points="421.84,128.65 422.64,131.05 425.17,131.07 423.14,132.57 423.89,134.98 421.84,133.52 419.78,134.98 420.54,132.57 418.51,131.07 421.04,131.05" fill="#fff" stroke="#ff1010" stroke-width="1.15" stroke-linejoin="round"/>
<polygon points="430.53,123.35 431.33,125.75 433.86,125.77 431.83,127.27 432.58,129.68 430.53,128.22 428.47,129.68 429.23,127.27 427.20,125.77 429.73,125.75" fill="#fff" stroke="#ff1010" stroke-width="1.15" stroke-linejoin="round"/>
<polygon points="439.22,118.05 440.02,120.45 442.55,120.47 440.52,121.97 441.27,124.38 439.22,122.91 437.16,124.38 437.92,121.97 435.89,120.47 438.42,120.45" fill="#fff" stroke="#ff1010" stroke-width="1.15" stroke-linejoin="round"/>
<polygon points="447.91,112.25 448.71,114.65 451.24,114.67 449.21,116.17 449.96,118.58 447.91,117.11 445.85,118.58 446.61,116.17 444.58,114.67 447.11,114.65" fill="#fff" stroke="#ff1010" stroke-width="1.15" stroke-linejoin="round"/>
<polygon points="456.60,106.05 457.40,108.45 459.93,108.47 457.90,109.97 458.65,112.38 456.60,110.91 454.54,112.38 455.30,109.97 453.27,108.47 455.80,108.45" fill="#fff" stroke="#ff1010" stroke-width="1.15" stroke-linejoin="round"/>
<polygon points="465.29,98.35 466.09,100.75 468.62,100.77 466.59,102.27 467.34,104.68 465.29,103.21 463.23,104.68 463.99,102.27 461.96,100.77 464.49,100.75" fill="#fff" stroke="#ff1010" stroke-width="1.15" stroke-linejoin="round"/>
<polygon points="473.98,90.55 474.78,92.95 477.31,92.97 475.28,94.47 476.03,96.88 473.98,95.41 471.92,96.88 472.68,94.47 470.65,92.97 473.18,92.95" fill="#fff" stroke="#ff1010" stroke-width="1.15" stroke-linejoin="round"/>
<polygon points="482.67,81.45 483.47,83.85 486.00,83.87 483.97,85.37 484.72,87.78 482.67,86.31 480.61,87.78 481.37,85.37 479.34,83.87 481.87,83.85" fill="#fff" stroke="#ff1010" stroke-width="1.15" stroke-linejoin="round"/>
<polygon points="491.36,71.35 492.16,73.75 494.69,73.77 492.66,75.27 493.41,77.68 491.36,76.21 489.30,77.68 490.06,75.27 488.03,73.77 490.56,73.75" fill="#fff" stroke="#ff1010" stroke-width="1.15" stroke-linejoin="round"/>
<polygon points="500.05,61.65 500.85,64.05 503.38,64.07 501.35,65.57 502.10,67.98 500.05,66.51 497.99,67.98 498.75,65.57 496.72,64.07 499.25,64.05" fill="#fff" stroke="#ff1010" stroke-width="1.15" stroke-linejoin="round"/>
<polygon points="508.74,51.15 509.54,53.55 512.07,53.57 510.04,55.07 510.79,57.48 508.74,56.02 506.68,57.48 507.44,55.07 505.41,53.57 507.94,53.55" fill="#fff" stroke="#ff1010" stroke-width="1.15" stroke-linejoin="round"/>
<polygon points="517.43,40.55 518.23,42.95 520.76,42.97 518.73,44.47 519.48,46.88 517.43,45.42 515.37,46.88 516.13,44.47 514.10,42.97 516.63,42.95" fill="#fff" stroke="#ff1010" stroke-width="1.15" stroke-linejoin="round"/>
<polygon points="526.12,29.75 526.92,32.15 529.45,32.17 527.42,33.67 528.17,36.08 526.12,34.62 524.06,36.08 524.82,33.67 522.79,32.17 525.32,32.15" fill="#fff" stroke="#ff1010" stroke-width="1.15" stroke-linejoin="round"/>
</svg></body></html>
